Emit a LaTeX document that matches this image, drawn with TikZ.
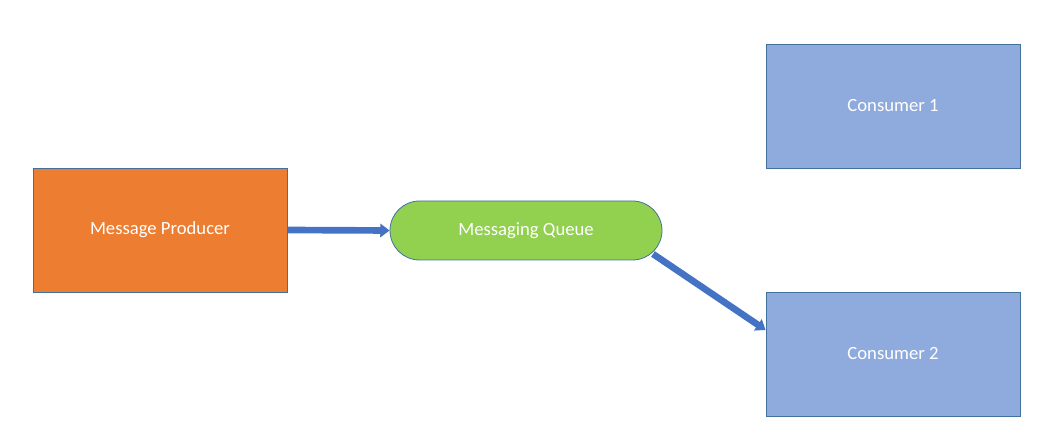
\documentclass[tikz,border=0pt]{standalone}
\usepackage{fontspec}
\setmainfont{Carlito}
\usetikzlibrary{shapes.misc,arrows.meta}
\definecolor{borderc}{HTML}{41719C}
\definecolor{orangec}{HTML}{ED7D31}
\definecolor{greenc}{HTML}{92D050}
\definecolor{bluec}{HTML}{8FAADC}
\definecolor{arrowc}{HTML}{4472C4}
\begin{document}
\begin{tikzpicture}[x=0.75pt,y=-0.75pt,
  box/.style={draw=borderc,line width=0.6pt,minimum width=254*0.75pt,minimum height=124*0.75pt,inner sep=0pt,text=white,font=\fontsize{14}{16}\selectfont},
  fat/.style={draw=arrowc,line width=5pt,-{Triangle[length=7pt,width=10pt]}}]
\useasboundingbox (0,0) rectangle (1043,441);
\node[box,fill=orangec] (prod) at (160,230) {Message Producer};
\node[box,fill=greenc,rounded rectangle,minimum width=272*0.75pt,minimum height=59*0.75pt] (queue) at (526,230.5) {Messaging Queue};
\node[box,fill=bluec] (c1) at (893,106) {Consumer 1};
\node[box,fill=bluec] (c2) at (893,354) {Consumer 2};
\coordinate (qo) at (653,254);
\draw[fat] (prod.east) -- (queue.west);
\draw[fat] (qo) -- (c2.west |- 0,330) ;
\end{tikzpicture}
\end{document}
